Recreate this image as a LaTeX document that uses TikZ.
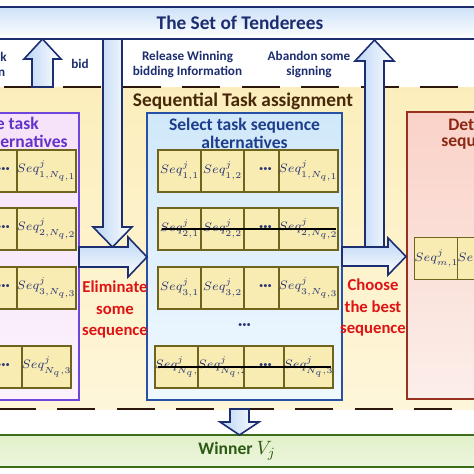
\documentclass[tikz,border=0pt]{standalone}
\usepackage{fontspec}
\setmainfont{Carlito}
\definecolor{navy}{RGB}{28,45,112}
\definecolor{topA}{RGB}{205,225,248}
\definecolor{yelA}{RGB}{252,238,188}
\definecolor{yelB}{RGB}{254,246,218}
\definecolor{dashc}{RGB}{45,22,12}
\definecolor{brownt}{RGB}{70,40,10}
\definecolor{bluet}{RGB}{30,62,140}
\definecolor{blueb}{RGB}{40,80,165}
\definecolor{blueA}{RGB}{208,232,250}
\definecolor{blueB}{RGB}{240,248,255}
\definecolor{purpb}{RGB}{110,70,220}
\definecolor{purpt}{RGB}{100,50,200}
\definecolor{purpA}{RGB}{246,226,250}
\definecolor{purpB}{RGB}{251,242,252}
\definecolor{orb}{RGB}{150,50,30}
\definecolor{ort}{RGB}{140,40,20}
\definecolor{orA}{RGB}{250,210,200}
\definecolor{orB}{RGB}{252,238,234}
\definecolor{cellfill}{RGB}{248,236,178}
\definecolor{cellborder}{RGB}{110,100,30}
\definecolor{celltext}{RGB}{40,52,115}
\definecolor{redt}{RGB}{222,20,20}
\definecolor{greenb}{RGB}{60,110,25}
\definecolor{greent}{RGB}{45,90,20}
\definecolor{greenA}{RGB}{225,240,200}
\definecolor{arrowA}{RGB}{185,212,245}
\begin{document}
\begin{tikzpicture}[x=0.02cm,y=-0.02cm,
  cell/.style={draw=cellborder, fill=cellfill, line width=1pt, minimum width=0.86cm, minimum height=0.84cm, inner sep=0pt, font=\fontsize{7}{7.5}\selectfont, text=celltext},
  bigbox/.style={line width=1pt, minimum width=3.9cm, minimum height=5.74cm, inner sep=0pt},
  blockarrow/.style={draw=navy, line width=0.9pt, left color=arrowA, right color=white},
  hblockarrow/.style={draw=navy, line width=0.9pt, top color=arrowA, bottom color=white},
  dashline/.style={draw=dashc, line width=1.7pt, dash pattern=on 0.76cm off 0.43cm},
  strike/.style={draw=black, line width=1.5pt},
  smalltxt/.style={font=\fontsize{7.5}{8.5}\selectfont\bfseries, text=navy, align=center, inner sep=0pt},
  redtxt/.style={font=\fontsize{9.5}{12.2}\selectfont\bfseries, text=redt, align=center, inner sep=0pt},
  dotstxt/.style={font=\fontsize{9}{9}\selectfont\bfseries, text=celltext, inner sep=0pt}
]
\useasboundingbox (0,0) rectangle (474,474);
\clip (0,0) rectangle (474,474);

% yellow region
\path[top color=yelA, bottom color=yelB] (-10,87) rectangle (490,409);

% dashed lines
\draw[dashline] (-55.5,87) -- (490,87);
\draw[dashline] (-61.5,409) -- (490,409);

% top box
\node[draw=navy, line width=1.2pt, top color=topA, bottom color=white, minimum width=10cm, minimum height=0.64cm, inner sep=0pt,
  font=\fontsize{11}{12}\selectfont\bfseries, text=navy] (tenderees) at (240,23) {The Set of Tenderees};

% winner box
\node[draw=greenb, line width=1.2pt, top color=greenA, bottom color=greenA!60!white, minimum width=10cm, minimum height=0.64cm, inner sep=0pt,
  font=\fontsize{10}{12}\selectfont\bfseries, text=greent] (winner) at (237,451) {Winner \fontsize{11}{12}\selectfont$V_j$};

% section title
\node[font=\fontsize{11}{12}\selectfont\bfseries, text=brownt, inner sep=0pt] (seqtitle) at (243,101) {Sequential Task assignment};

% big boxes
\node[bigbox, draw=purpb, top color=purpA, bottom color=purpB] (genbox) at (-18.5,256.5) {};
\node[bigbox, draw=blueb, top color=blueA, bottom color=blueB] (selbox) at (244.5,256.5) {};
\node[bigbox, draw=orb, top color=orA, bottom color=orB] (detbox) at (504.5,255.5) {};

% box titles
\node[font=\fontsize{10}{10.3}\selectfont\bfseries, text=purpt, align=center, inner sep=0pt] (gentitle) at (-12,133.5) {Generate task\\sequence alternatives};
\node[font=\fontsize{10}{10.3}\selectfont\bfseries, text=bluet, align=center, inner sep=0pt] (seltitle) at (244.5,133.5) {Select task sequence\\alternatives};
\node[font=\fontsize{10}{10.3}\selectfont\bfseries, text=ort, anchor=west, inner sep=0pt] (dett1) at (448,124) {Determine the};
\node[font=\fontsize{10}{10.3}\selectfont\bfseries, text=ort, anchor=west, inner sep=0pt] (dett2) at (441,142) {sequence of tasks};

% ---- select box cells
\node[cell] (b11) at (179.5,171) {$Seq^{j}_{1,1}$};
\node[cell] (b12) at (222.5,171) {$Seq^{j}_{1,2}$};
\node[cell, dotstxt] (b13) at (265.5,171) {···};
\node[cell] (b14) at (308.5,171) {$Seq^{j}_{1,N_{q,1}}$};
\node[cell] (b21) at (179.5,229) {$Seq^{j}_{2,1}$};
\node[cell] (b22) at (222.5,229) {$Seq^{j}_{2,2}$};
\node[cell, dotstxt] (b23) at (265.5,229) {···};
\node[cell] (b24) at (308.5,229) {$Seq^{j}_{2,N_{q,2}}$};
\node[cell] (b31) at (179.5,288) {$Seq^{j}_{3,1}$};
\node[cell] (b32) at (222.5,288) {$Seq^{j}_{3,2}$};
\node[cell, dotstxt] (b33) at (265.5,288) {···};
\node[cell] (b34) at (308.5,288) {$Seq^{j}_{3,N_{q,3}}$};
\node[dotstxt] (bdots) at (244.5,327) {···};
\node[cell] (b41) at (179.5,367) {$Seq^{j}_{N_q,1}$};
\node[cell] (b42) at (222.5,367) {$Seq^{j}_{N_q,2}$};
\node[cell, dotstxt] (b43) at (265.5,367) {···};
\node[cell] (b44) at (308.5,367) {$Seq^{j}_{N_q,3}$};
\draw[strike] ([xshift=0.1cm]b21.west) -- ([xshift=-0.06cm]b24.east);
\draw[strike] ([xshift=0.08cm]b41.west) -- ([xshift=-0.06cm]b44.east);

% ---- generate box cells
\node[cell] (a11) at (-82.5,171) {$Seq^{j}_{1,1}$};
\node[cell] (a12) at (-39.5,171) {$Seq^{j}_{1,2}$};
\node[cell, dotstxt] (a13) at (3.5,171) {···};
\node[cell] (a14) at (46.5,171) {$Seq^{j}_{1,N_{q,1}}$};
\node[cell] (a21) at (-82.5,229) {$Seq^{j}_{2,1}$};
\node[cell] (a22) at (-39.5,229) {$Seq^{j}_{2,2}$};
\node[cell, dotstxt] (a23) at (3.5,229) {···};
\node[cell] (a24) at (46.5,229) {$Seq^{j}_{2,N_{q,2}}$};
\node[cell] (a31) at (-82.5,288) {$Seq^{j}_{3,1}$};
\node[cell] (a32) at (-39.5,288) {$Seq^{j}_{3,2}$};
\node[cell, dotstxt] (a33) at (3.5,288) {···};
\node[cell] (a34) at (46.5,288) {$Seq^{j}_{3,N_{q,3}}$};
\node[dotstxt] (adots) at (-18.5,327) {···};
\node[cell] (a41) at (-82.5,367) {$Seq^{j}_{N_q,1}$};
\node[cell] (a42) at (-39.5,367) {$Seq^{j}_{N_q,2}$};
\node[cell, dotstxt] (a43) at (3.5,367) {···};
\node[cell] (a44) at (46.5,367) {$Seq^{j}_{N_q,3}$};

% ---- determine box cells
\node[cell] (c11) at (436.5,258.5) {$Seq^{j}_{m,1}$};
\node[cell] (c12) at (479.5,258.5) {$Seq^{j}_{m,2}$};

% ---- block arrows
\path[blockarrow] (32,87) -- (32,59) -- (24,59) -- (42.5,39) -- (61,59) -- (53,59) -- (53,87) -- cycle;
\path[blockarrow] (103,39) -- (103,227) -- (93,227) -- (112.5,247) -- (132,227) -- (122,227) -- (122,39) -- cycle;
\path[blockarrow] (365,247) -- (365,61) -- (355,61) -- (374.5,40) -- (394,61) -- (384,61) -- (384,247) -- cycle;
\path[hblockarrow] (79,247) -- (128,247) -- (128,237) -- (147,257) -- (128,277) -- (128,267) -- (79,267) -- cycle;
\path[hblockarrow] (342,247) -- (388,247) -- (388,238) -- (406,256.5) -- (388,275) -- (388,266) -- (342,266) -- cycle;
\path[blockarrow] (230,409) -- (230,422) -- (220,422) -- (239.5,435) -- (259,422) -- (249,422) -- (249,409) -- cycle;

% ---- labels
\node[smalltxt, anchor=east] (reltask) at (7,64.5) {Release task\\information};
\node[smalltxt] (bidl) at (80,64) {bid};
\node[smalltxt] (relwin) at (187.5,64.5) {Release Winning\\bidding Information};
\node[smalltxt] (aband) at (309,64.5) {Abandon some\\signning};
\node[redtxt] (elim) at (115,309.5) {Eliminate\\some\\sequence};
\node[redtxt] (choose) at (373,307.5) {Choose\\the best\\sequence};
\end{tikzpicture}
\end{document}
